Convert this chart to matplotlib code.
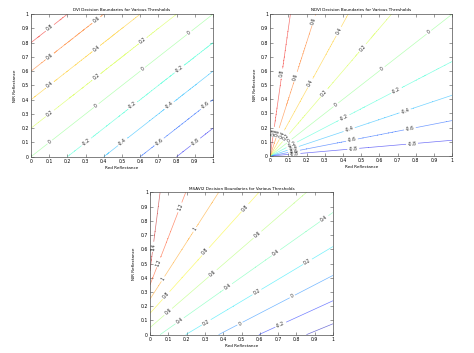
import numpy as np
import matplotlib
matplotlib.use("Agg")
import matplotlib.pyplot as plt
from matplotlib.colors import Normalize

# reflectance grid
red = np.linspace(0, 1, 401)
nir = np.linspace(0, 1, 401)

# contour thresholds
dvi_levels = [-0.8, -0.6, -0.4, -0.2, 0, 0.2, 0.4, 0.6, 0.8]
ndvi_levels = [-0.8, -0.6, -0.4, -0.2, 0, 0.2, 0.4, 0.6, 0.8]
msavi2_levels = [-0.4, -0.2, 0, 0.2, 0.4, 0.6, 0.8, 1.0, 1.2, 1.4]

ticks = [0, 0.1, 0.2, 0.3, 0.4, 0.5, 0.6, 0.7, 0.8, 0.9, 1]
tick_labels = ["0", "0.1", "0.2", "0.3", "0.4", "0.5", "0.6", "0.7", "0.8", "0.9", "1"]

R, N = np.meshgrid(red, nir)
dvi = N - R
with np.errstate(divide="ignore", invalid="ignore"):
    ndvi = np.ma.masked_invalid((N - R) / (N + R))
msavi2 = (2 * N + 2 - np.sqrt((2 * N + 1) ** 2 - 8 * (N - R))) / 2

FS = 3.0      # titles / axis labels
TFS = 3.3     # tick labels
CFS = 3.3     # contour labels


def label_points(ax, segs, spacing=59.0, offset=24.0, end_gap=6.0):
    pts = []
    for seg in segs:
        if len(seg) < 2:
            continue
        if seg[0].sum() > seg[-1].sum():
            seg = seg[::-1]
        disp = ax.transData.transform(seg)
        d = np.r_[0, np.cumsum(np.hypot(*np.diff(disp, axis=0).T))]
        s = offset
        while s < d[-1] - end_gap:
            x = np.interp(s, d, seg[:, 0])
            y = np.interp(s, d, seg[:, 1])
            pts.append((x, y))
            s += spacing
    return pts


def panel(rect, z, levels, title):
    ax = fig.add_axes(rect)
    ax.set_xlim(0, 1)
    ax.set_ylim(0, 1)
    norm = Normalize(float(z.min()), float(z.max()))
    cs = ax.contour(red, nir, z, levels=levels, cmap="jet", norm=norm,
                    linewidths=0.5, alpha=0.55)
    pts = []
    for i in range(len(levels)):
        pts += label_points(ax, cs.allsegs[i])
    txts = cs.clabel(manual=pts, inline=True, inline_spacing=1.5,
                     fontsize=CFS, colors="k", fmt=lambda v: f"{v:g}")
    for t in txts:
        t.set_alpha(0.85)
    ax.set_xticks(ticks)
    ax.set_yticks(ticks)
    ax.set_xticklabels(tick_labels)
    ax.set_yticklabels(tick_labels)
    ax.tick_params(direction="in", length=2, width=0.4, labelsize=TFS, pad=1.5,
                   top=True, right=True, color="0.3")
    for sp in ax.spines.values():
        sp.set_linewidth(0.5)
        sp.set_color("0.3")
    ax.set_title(title, fontsize=FS, pad=2)
    ax.set_xlabel("Red Reflectance", fontsize=FS, labelpad=1.5)
    ax.set_ylabel("NIR Reflectance", fontsize=FS, labelpad=3)
    return ax


fig = plt.figure(figsize=(4.74, 3.53), dpi=100)
panel([0.0654, 0.556, 0.384, 0.404], dvi, dvi_levels,
      "DVI Decision Boundaries for Various Thresholds")
panel([0.570, 0.558, 0.384, 0.402], ndvi, ndvi_levels,
      "NDVI Decision Boundaries for Various Thresholds")
panel([0.3165, 0.052, 0.386, 0.403], msavi2, msavi2_levels,
      "MSAVI2 Decision Boundaries for Various Thresholds")

fig.savefig("out.png", dpi=100)
